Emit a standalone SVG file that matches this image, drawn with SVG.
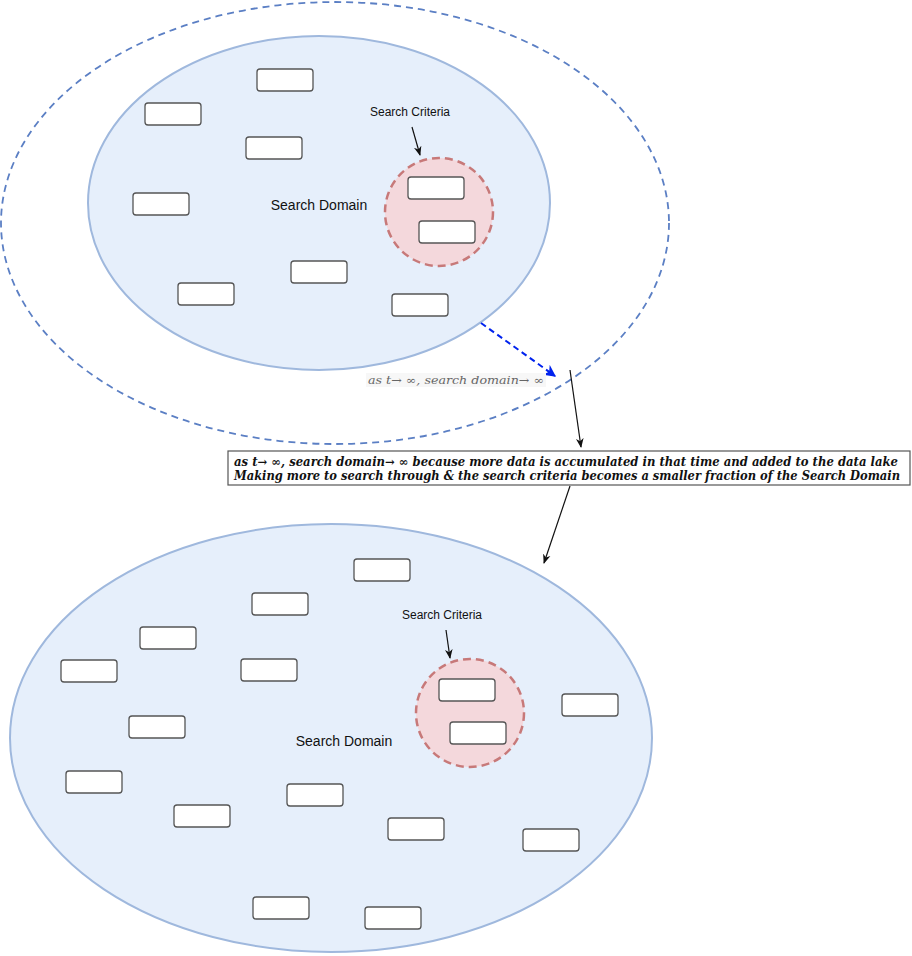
<svg xmlns="http://www.w3.org/2000/svg" width="912" height="956" viewBox="0 0 912 956">
<defs>
<style>
.dom{fill:#e6effb;stroke:#9fb8dd;stroke-width:2}
.crit{fill:#f4d8dc;stroke:#c77979;stroke-width:2.5;stroke-dasharray:8 5}
.r{fill:#fff;stroke:#555;stroke-width:1.3}
.lbl{font-family:"Liberation Sans",Arial,sans-serif;fill:#111}
.ln{stroke:#111;stroke-width:1.2;fill:none}
.nt{font-size:12px;font-family:"DejaVu Serif","Liberation Serif",serif;font-style:italic;font-weight:bold;fill:#111}
</style>
<marker id="ab" viewBox="0 0 10 10" refX="9" refY="5" markerWidth="8" markerHeight="8" orient="auto"><path d="M0,1 L10,5 L0,9 L3,5 Z" fill="#111"/></marker>
<marker id="abl" viewBox="0 0 10 10" refX="9" refY="5" markerWidth="6" markerHeight="6" orient="auto"><path d="M0,0 L10,5 L0,10 L3,5 Z" fill="#0022ee"/></marker>
</defs>
<g id="outer"><ellipse cx="335" cy="223" rx="334" ry="221" fill="none" stroke="#5b7fc4" stroke-width="1.8" stroke-dasharray="7 5"/></g>
<g id="top-domain">
<ellipse class="dom" cx="319" cy="203" rx="231" ry="167"/>
<circle class="crit" cx="439" cy="212" r="54"/>
<rect class="r" x="257" y="69" width="56" height="22" rx="3"/>
<rect class="r" x="145" y="103" width="56" height="22" rx="3"/>
<rect class="r" x="246" y="137" width="56" height="22" rx="3"/>
<rect class="r" x="133" y="193" width="56" height="22" rx="3"/>
<rect class="r" x="408" y="177" width="56" height="22" rx="3"/>
<rect class="r" x="419" y="221" width="56" height="22" rx="3"/>
<rect class="r" x="291" y="261" width="56" height="22" rx="3"/>
<rect class="r" x="178" y="283" width="56" height="22" rx="3"/>
<rect class="r" x="392" y="294" width="56" height="22" rx="3"/>
<text class="lbl" x="319" y="210" font-size="14" text-anchor="middle">Search Domain</text>
<text class="lbl" x="410" y="116" font-size="12" text-anchor="middle">Search Criteria</text>
</g>
<g id="bottom-domain">
<ellipse class="dom" cx="331" cy="738" rx="321" ry="214"/>
<circle class="crit" cx="470" cy="713" r="54"/>
<rect class="r" x="354" y="559" width="56" height="22" rx="3"/>
<rect class="r" x="252" y="593" width="56" height="22" rx="3"/>
<rect class="r" x="140" y="627" width="56" height="22" rx="3"/>
<rect class="r" x="61" y="660" width="56" height="22" rx="3"/>
<rect class="r" x="241" y="659" width="56" height="22" rx="3"/>
<rect class="r" x="439" y="679" width="56" height="22" rx="3"/>
<rect class="r" x="562" y="694" width="56" height="22" rx="3"/>
<rect class="r" x="129" y="716" width="56" height="22" rx="3"/>
<rect class="r" x="450" y="722" width="56" height="22" rx="3"/>
<rect class="r" x="66" y="771" width="56" height="22" rx="3"/>
<rect class="r" x="287" y="784" width="56" height="22" rx="3"/>
<rect class="r" x="174" y="805" width="56" height="22" rx="3"/>
<rect class="r" x="388" y="818" width="56" height="22" rx="3"/>
<rect class="r" x="523" y="829" width="56" height="22" rx="3"/>
<rect class="r" x="253" y="897" width="56" height="22" rx="3"/>
<rect class="r" x="365" y="907" width="56" height="22" rx="3"/>
<text class="lbl" x="344" y="746" font-size="14" text-anchor="middle">Search Domain</text>
<text class="lbl" x="442" y="619" font-size="12" text-anchor="middle">Search Criteria</text>
</g>
<g id="note">
<rect x="228" y="451" width="682" height="34" fill="#fff" stroke="#555" stroke-width="1.2"/>
<text class="nt" x="234" y="466" textLength="664" lengthAdjust="spacingAndGlyphs">as t→ ∞, search domain→ ∞ because more data is accumulated in that time and added to the data lake</text>
<text class="nt" x="234" y="480" textLength="666" lengthAdjust="spacingAndGlyphs">Making more to search through &amp; the search criteria becomes a smaller fraction of the Search Domain</text>
</g>
<g id="connectors">
<line class="ln" x1="412" y1="127" x2="420" y2="155" marker-end="url(#ab)"/>
<line class="ln" x1="446" y1="630" x2="450" y2="658" marker-end="url(#ab)"/>
<line x1="481" y1="323" x2="555" y2="376" stroke="#0022ee" stroke-width="2" stroke-dasharray="6 4" marker-end="url(#abl)"/>
<rect x="366" y="373" width="180" height="14" fill="#f7f7f7"/>
<text x="368" y="384" font-size="11" font-family="'DejaVu Serif','Liberation Serif',serif" font-style="italic" fill="#666" textLength="176" lengthAdjust="spacingAndGlyphs">as t→ ∞, search domain→ ∞</text>
<line class="ln" x1="570" y1="370" x2="581" y2="447" marker-end="url(#ab)"/>
<line class="ln" x1="570" y1="486" x2="544" y2="563" marker-end="url(#ab)"/>
</g>
</svg>
